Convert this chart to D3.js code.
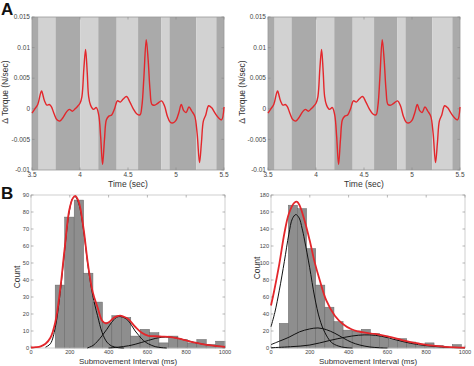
<!DOCTYPE html>
<html>
<head>
<meta charset="utf-8">
<script src="https://cdnjs.cloudflare.com/ajax/libs/d3/7.8.5/d3.min.js"></script>
<style>
body { margin: 0; background: #fff; }
svg { display: block; }
text { font-family: "Liberation Sans", Arial, sans-serif; }
</style>
</head>
<body>
<svg id="chart" width="474" height="366"></svg>
<script>
// panel A: torque trace (same trace shown twice)
const traceT = [3.50,3.53,3.56,3.59,3.60,3.63,3.655,3.68,3.70,3.73,3.76,3.79,3.82,3.86,3.89,3.92,3.95,3.98,
  4.00,4.02,4.04,4.058,4.075,4.09,4.11,4.14,4.17,4.195,4.215,4.235,4.255,4.275,4.30,4.33,4.36,4.39,4.42,4.45,
  4.485,4.52,4.555,4.59,4.625,4.645,4.665,4.69,4.71,4.73,4.75,4.78,4.81,4.85,4.88,4.91,4.94,4.97,5.00,5.03,
  5.055,5.08,5.105,5.135,5.165,5.195,5.22,5.245,5.265,5.285,5.31,5.34,5.37,5.41,5.445,5.475,5.50];
const traceV = [-0.0007,0.0000,0.0007,0.0026,0.0029,0.0013,0.0006,0.0007,0.0004,-0.0008,-0.0018,-0.0020,-0.0015,
  -0.0005,-0.0001,-0.0004,0.0000,0.0005,0.0009,0.0020,0.0065,0.0097,0.0060,0.0020,0.0006,-0.0001,0.0002,-0.0010,
  -0.0045,-0.0091,-0.0050,-0.0018,-0.0012,-0.0010,0.0000,0.0013,0.0011,0.0016,0.0020,0.0011,0.0000,-0.0008,
  -0.0010,0.0005,0.0050,0.0113,0.0080,0.0030,0.0007,0.0006,0.0009,0.0013,0.0005,-0.0012,-0.0022,-0.0023,-0.0019,
  -0.0006,0.0007,-0.0003,-0.0006,0.0003,-0.0004,-0.0012,-0.0040,-0.0088,-0.0055,-0.0020,-0.0010,0.0005,0.0002,
  -0.0008,-0.0015,-0.0018,0.0003];
// alternating shaded intervals (start dark)
const bandEdges = [3.5,3.569,3.745,4.002,4.19,4.382,4.605,4.848,4.932,5.21,5.42,5.5];
const bandShades = ["#aaaaaa","#d2d2d2"];
const traceXTicks = [3.5,4,4.5,5,5.5];
const traceYTicks = [-0.01,-0.005,0,0.005,0.01,0.015];

// panel B left histogram + fits
const histLCenters = [149,198,247,295,344,392,441,490,538,587,635,684,733,781,830,879,927,976];
const histLWidth = 48.6;
const histLCounts = [37,77,87,44,27,15,19,18,7,11,9,3,7,5,3,5,2,4];
const fitL = [[0,0.3],[25,0.5],[50,1],[75,2.5],[100,6],[125,15],[150,34],[173,58],[197,81],[215,88],[228,89.5],
  [246,86],[270,71],[294,49],[318,33],[343,24],[367,16],[385,14.5],[405,15.5],[430,18],[459,19],[480,18.3],
  [502,17],[537,12.5],[571,9],[606,7.2],[640,6.9],[675,6.7],[710,6.5],[745,6],[779,5.1],[813,4.1],[848,3.1],
  [883,2.3],[918,1.7],[960,1.1],[1000,0.7]];
const compL1 = [[75,0.5],[100,2.5],[125,12],[150,32],[173,57],[197,80],[215,88],[228,89],[246,85],[270,70],
  [294,48],[318,31],[343,19],[367,9],[391,3.5],[415,1.2],[450,0.2],[480,0]];
const compL2 = [[290,0],[320,1.5],[343,4],[367,7.3],[391,11],[415,15],[440,18],[459,18.5],[480,17.8],[502,16],
  [520,13],[537,10],[555,7.5],[571,5.3],[590,3.5],[606,2.4],[640,0.8],[675,0.2],[700,0]];
const compL3 = [[400,0],[450,0.5],[502,1.3],[537,2.2],[571,3.3],[606,4.5],[640,5.6],[675,6.3],[710,6.4],
  [745,6],[779,5.1],[813,4.1],[848,3.1],[883,2.3],[918,1.7],[960,1.1],[1000,0.7]];

// panel B right histogram + fits
const histRCenters = [66,113,160,207,254,301,348,395,442,489,536,582,629,676,723,770,817,864,911,958];
const histRWidth = 46.9;
const histRCounts = [29,168,164,117,74,48,31,21,20,22,17,14,10,11,7,3,6,3,1,4];
const fitR = [[0,50],[17,68],[43,99],[69,135],[92,158],[121,171],[135,172],[147,168],[173,150],[199,127],
  [225,101],[251,80],[285,56],[329,38],[372,28],[415,22],[450,19.5],[484,18],[536,16.5],[606,13.4],[675,9.4],
  [720,7],[761,5.3],[800,3.8],[848,2.5],[900,1.4],[952,0.8],[1000,0.5]];
const compR1 = [[0,25],[20,42],[43,68],[69,102],[92,134],[110,152],[128,157],[145,153],[160,141],[173,127],
  [199,95],[225,60],[251,34],[277,18.5],[311,6.7],[346,2.4],[381,0.6],[420,0]];
const compR2 = [[0,4],[43,8],[92,12.6],[147,19],[199,22.4],[242,23.6],[285,21.6],[329,17.3],[372,11.8],
  [415,6.7],[458,3.5],[510,1.2],[560,0.3],[600,0]];
const compR3 = [[0,0.3],[100,1.5],[200,3.5],[300,8.7],[380,12.6],[450,15],[510,15.4],[570,13.8],[640,9.8],
  [720,5.5],[800,2.8],[880,1.2],[960,0.4],[1000,0.2]];
const histXTicks = [0,200,400,600,800,1000];

const svg = d3.select("#chart");
const RED = "#e3262b";

function axes(g, x, y, xTicks, yTicks, frameColor, fs) {
  const [x0, x1] = x.range();
  const [y1, y0] = y.range();
  g.append("rect")
    .attr("x", x0).attr("y", y0)
    .attr("width", x1 - x0).attr("height", y1 - y0)
    .attr("fill", "none").attr("stroke", frameColor).attr("stroke-width", 0.8);
  xTicks.forEach(t => {
    g.append("line").attr("x1", x(t)).attr("x2", x(t)).attr("y1", y1).attr("y2", y1 - 2.5)
      .attr("stroke", "#888").attr("stroke-width", 0.6);
    g.append("line").attr("x1", x(t)).attr("x2", x(t)).attr("y1", y0).attr("y2", y0 + 2.5)
      .attr("stroke", "#888").attr("stroke-width", 0.6);
    g.append("text").attr("x", x(t)).attr("y", y1 + fs + 0.5)
      .attr("text-anchor", "middle").attr("font-size", fs).attr("fill", "#444")
      .text(String(t));
  });
  yTicks.forEach(t => {
    g.append("line").attr("x1", x0).attr("x2", x0 + 2.5).attr("y1", y(t)).attr("y2", y(t))
      .attr("stroke", "#888").attr("stroke-width", 0.6);
    g.append("line").attr("x1", x1).attr("x2", x1 - 2.5).attr("y1", y(t)).attr("y2", y(t))
      .attr("stroke", "#888").attr("stroke-width", 0.6);
    g.append("text").attr("x", x0 - 2).attr("y", y(t) + fs * 0.35)
      .attr("text-anchor", "end").attr("font-size", fs).attr("fill", "#444")
      .text(String(t));
  });
}

function label(txt, x, y, rot, fs) {
  svg.append("text")
    .attr("transform", "translate(" + x + "," + y + ")" + (rot ? " rotate(-90)" : ""))
    .attr("text-anchor", "middle").attr("font-size", fs || 8.5).attr("fill", "#333")
    .text(txt);
}

function drawTrace(left, right) {
  const x = d3.scaleLinear().domain([3.5, 5.5]).range([left, right]);
  const y = d3.scaleLinear().domain([-0.01, 0.015]).range([170, 17]);
  const g = svg.append("g");
  for (let i = 0; i < bandEdges.length - 1; i++) {
    g.append("rect")
      .attr("x", x(bandEdges[i])).attr("y", y(0.015))
      .attr("width", x(bandEdges[i + 1]) - x(bandEdges[i]))
      .attr("height", y(-0.01) - y(0.015))
      .attr("fill", bandShades[i % 2]);
  }
  axes(g, x, y, traceXTicks, traceYTicks, "#999", 6.5);
  const line = d3.line().x((d, i) => x(traceT[i])).y(d => y(d)).curve(d3.curveCatmullRom.alpha(0.5));
  g.append("path").datum(traceV).attr("d", line)
    .attr("fill", "none").attr("stroke", RED).attr("stroke-width", 1.4);
  label("Time (sec)", (left + right) / 2, 187, false);
}

function drawHist(left, right, yMax, yStep, centers, width, counts, fit, comps) {
  const x = d3.scaleLinear().domain([0, 1000]).range([left, right]);
  const y = d3.scaleLinear().domain([0, yMax]).range([348, 195]);
  const g = svg.append("g");
  g.selectAll("rect.bar").data(counts).enter().append("rect")
    .attr("class", "bar")
    .attr("x", (d, i) => x(centers[i] - width / 2))
    .attr("y", d => y(d))
    .attr("width", (d, i) => x(centers[i] + width / 2) - x(centers[i] - width / 2))
    .attr("height", d => y(0) - y(d))
    .attr("fill", "#8e8e8e").attr("stroke", "#666").attr("stroke-width", 0.5);
  axes(g, x, y, histXTicks, d3.range(0, yMax + 1, yStep), "#c4c4c4", 5.6);
  const line = d3.line().x(d => x(d[0])).y(d => y(d[1])).curve(d3.curveCatmullRom.alpha(0.5));
  comps.forEach(c => {
    g.append("path").datum(c).attr("d", line)
      .attr("fill", "none").attr("stroke", "#111").attr("stroke-width", 1);
  });
  g.append("path").datum(fit).attr("d", line)
    .attr("fill", "none").attr("stroke", RED).attr("stroke-width", 1.8);
  label("Submovement Interval (ms)", (left + right) / 2, 364, false, 8);
}

drawTrace(32, 224);
drawTrace(268, 460);
label("\u0394 Torque (N/sec)", 7.5, 92, true);
label("\u0394 Torque (N/sec)", 244.5, 92, true);

drawHist(31, 225, 90, 10, histLCenters, histLWidth, histLCounts, fitL, [compL1, compL2, compL3]);
drawHist(271, 465, 180, 20, histRCenters, histRWidth, histRCounts, fitR, [compR1, compR2, compR3]);
label("Count", 19.5, 277, true);
label("Count", 259.5, 268, true);

svg.append("text").attr("x", 1).attr("y", 15).attr("font-size", 17).attr("font-weight", "bold")
  .attr("fill", "#111").text("A");
svg.append("text").attr("x", 1).attr("y", 199).attr("font-size", 17).attr("font-weight", "bold")
  .attr("fill", "#111").text("B");
</script>
</body>
</html>
